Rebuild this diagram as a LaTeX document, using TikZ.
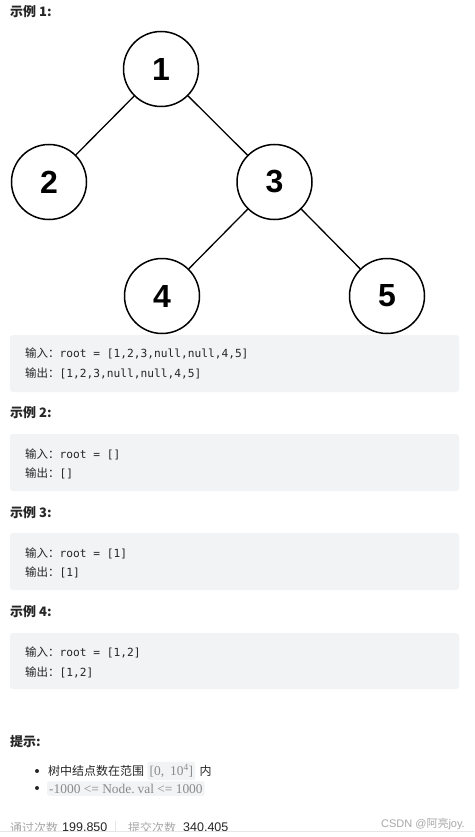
\documentclass[tikz,border=0pt]{standalone}
\usepackage{fontspec}
\setmainfont{Liberation Sans}
\newfontfamily\cjk{Noto Sans CJK SC}
\newfontfamily\mono{DejaVu Sans Mono}
\newfontfamily\serifc{Liberation Serif}
\definecolor{txt}{HTML}{262626}
\definecolor{boxbg}{HTML}{F2F3F5}
\definecolor{codegray}{HTML}{8A8A8A}
\definecolor{lightgray}{HTML}{A8A8A8}
\definecolor{rulegray}{HTML}{E6E6E6}
\tikzset{
  tn/.style={circle, draw=black, line width=1.5pt, minimum size=75pt, inner sep=0pt, font=\fontsize{32}{32}\selectfont\bfseries},
  edge/.style={line width=1.3pt},
  head/.style={anchor=west, inner sep=0pt, text=txt, font=\fontsize{13}{13}\selectfont\cjk\bfseries},
  codeline/.style={anchor=west, inner sep=0pt, text=txt, font=\fontsize{11.5}{12}\selectfont\cjk},
  codebox/.style={fill=boxbg, rounded corners=3pt},
  inlinecode/.style={fill=boxbg, rounded corners=2pt, inner xsep=2pt, inner ysep=2.5pt, text=codegray, font=\fontsize{13.4}{13}\selectfont\serifc},
}
\newcommand{\mcode}[1]{{\mono\fontsize{11.2}{12}\selectfont #1}}
\begin{document}
\begin{tikzpicture}[x=1pt,y=-1pt]
\useasboundingbox[fill=white] (0,0) rectangle (474,837);

% heading 1
\node[head] (h1) at (10,12) {示例 1:};

% tree
\node[tn] (n1) at (161,69) {1};
\node[tn] (n2) at (49,182) {2};
\node[tn] (n3) at (274.5,182) {3};
\node[tn] (n4) at (162,296) {4};
\node[tn] (n5) at (387,296) {5};
\draw[edge] (n1) -- (n2);
\draw[edge] (n1) -- (n3);
\draw[edge] (n3) -- (n4);
\draw[edge] (n3) -- (n5);

% box 1
\fill[codebox] (10,335) rectangle (459,392);
\node[codeline] (i1) at (25,353) {输入：\mcode{root = [1,2,3,null,null,4,5]}};
\node[codeline] (o1) at (25,373) {输出：\mcode{[1,2,3,null,null,4,5]}};

% example 2
\node[head] (h2) at (10,413) {示例 2:};
\fill[codebox] (10,434) rectangle (459,491);
\node[codeline] (i2) at (25,454) {输入：\mcode{root = []}};
\node[codeline] (o2) at (25,473) {输出：\mcode{[]}};

% example 3
\node[head] (h3) at (10,513) {示例 3:};
\fill[codebox] (10,533) rectangle (459,590);
\node[codeline] (i3) at (25,553) {输入：\mcode{root = [1]}};
\node[codeline] (o3) at (25,572) {输出：\mcode{[1]}};

% example 4
\node[head] (h4) at (10,612) {示例 4:};
\fill[codebox] (10,633) rectangle (459,689);
\node[codeline] (i4) at (25,652) {输入：\mcode{root = [1,2]}};
\node[codeline] (o4) at (25,672) {输出：\mcode{[1,2]}};

% hints
\node[head] (h5) at (10,742) {提示:};
\fill[txt] (37,771) circle (2pt);
\fill[txt] (37,788) circle (2pt);
\node[anchor=west, inner sep=0pt, text=txt, font=\fontsize{12}{12}\selectfont\cjk] (t1) at (48,771) {树中结点数在范围};
\node[inlinecode, anchor=west] (c1) at ([xshift=3pt]t1.east) {[0,\hspace{6pt}10\textsuperscript{4}]};
\node[anchor=west, inner sep=0pt, text=txt, font=\fontsize{12}{12}\selectfont\cjk] (t2) at ([xshift=4pt]c1.east) {内};
\node[inlinecode, anchor=west] (c2) at (47,788.5) {-1000 <= Node.\hspace{3pt}val <= 1000};

% footer
\node[anchor=west, inner sep=0pt, text=lightgray, font=\fontsize{12}{12}\selectfont\cjk] (f1) at (10,828) {通过次数};
\node[anchor=west, inner sep=0pt, text=txt, font=\fontsize{12.5}{12}\selectfont] (f2) at (62,828) {199,850};
\draw[rulegray, line width=0.8pt] (115,821) -- (115,834);
\node[anchor=west, inner sep=0pt, text=lightgray, font=\fontsize{12}{12}\selectfont\cjk] (f3) at (128,828) {提交次数};
\node[anchor=west, inner sep=0pt, text=txt, font=\fontsize{12.5}{12}\selectfont] (f4) at (183,828) {340,405};
\node[anchor=east, inner sep=0pt, text=lightgray, font=\fontsize{11}{11}\selectfont] (w) at (465,824) {CSDN @{\cjk 阿亮}joy.};
\fill[white] (0,831) rectangle (474,837);
\draw[rulegray, line width=0.6pt] (0,831) -- (474,831);
\end{tikzpicture}
\end{document}
